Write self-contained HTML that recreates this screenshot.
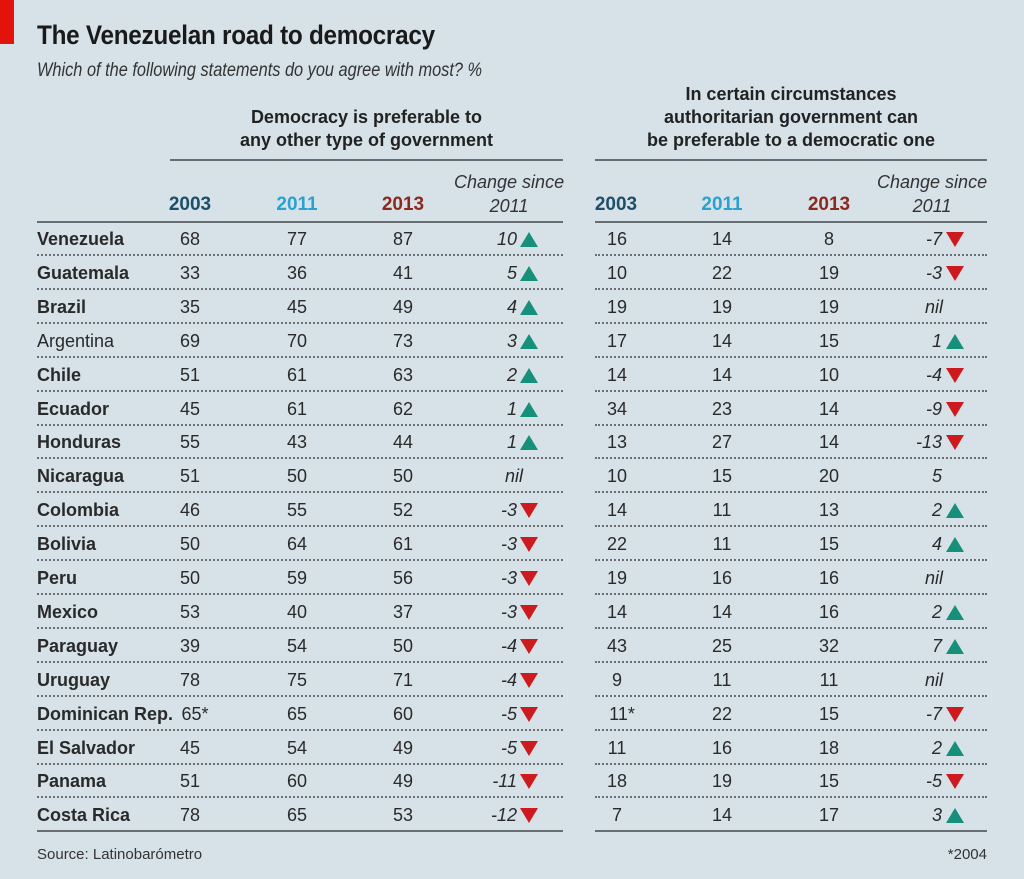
<!DOCTYPE html>
<html><head><meta charset="utf-8">
<style>
html,body{margin:0;padding:0}
body{width:1024px;height:879px;background:#d6e2e8;position:relative;overflow:hidden;font-family:"Liberation Sans",sans-serif;color:#2a2a2a}
.a{position:absolute;white-space:nowrap}
.red{position:absolute;left:0;top:0;width:14px;height:44px;background:#e3120b}
.title{left:37px;top:20px;font-size:27px;font-weight:bold;color:#1a1a1a;letter-spacing:-0.3px;transform:scaleX(0.9);transform-origin:0 0}
.sub{left:37px;top:60px;font-size:19px;font-style:italic;color:#333;transform:scaleX(0.86);transform-origin:0 0}
.hd{font-size:18px;font-weight:bold;text-align:center;line-height:23px;color:#222}
.yr{font-size:19px;font-weight:bold;top:194px;text-align:center;width:60px}
.c03{color:#1b5068}.c11{color:#2ba1cf}.c13{color:#8a2a1e}
.chg{font-size:18px;font-style:italic;text-align:center;line-height:24px;color:#333}
.line{position:absolute;height:2px;background:#666e72}
.row{position:absolute;height:34px;border-bottom:2px dotted #6a6f72;box-sizing:border-box}
.row span{position:absolute;top:6px;font-size:18px;line-height:22px}
.n{left:0;font-weight:bold;color:#2a2a2a}
.v{width:50px;text-align:center;margin-left:-25px}
.ch{text-align:right;width:60px;font-style:italic}
.up,.dn{position:absolute;top:10px;width:0;height:0;border-left:9px solid transparent;border-right:9px solid transparent}
.up{border-bottom:15px solid #16907a}
.dn{border-top:15px solid #cc1a1f}
.foot{top:846px;font-size:15px;color:#333}
</style></head><body>
<div class="red"></div>
<div class="a title">The Venezuelan road to democracy</div>
<div class="a sub">Which of the following statements do you agree with most? %</div>

<div class="a hd" style="left:170px;width:393px;top:106px">Democracy is preferable to<br>any other type of government</div>
<div class="a hd" style="left:595px;width:392px;top:83px">In certain circumstances<br>authoritarian government can<br>be preferable to a democratic one</div>
<div class="line" style="left:170px;width:393px;top:159px"></div>
<div class="line" style="left:595px;width:392px;top:159px"></div>

<div class="a yr c03" style="left:160px">2003</div>
<div class="a yr c11" style="left:267px">2011</div>
<div class="a yr c13" style="left:373px">2013</div>
<div class="a chg" style="left:454px;width:110px;top:170px">Change since<br>2011</div>
<div class="a yr c03" style="left:586px">2003</div>
<div class="a yr c11" style="left:692px">2011</div>
<div class="a yr c13" style="left:799px">2013</div>
<div class="a chg" style="left:877px;width:110px;top:170px">Change since<br>2011</div>

<div class="line" style="left:37px;width:526px;top:221px"></div>
<div class="line" style="left:595px;width:392px;top:221px"></div>

<div class="a" style="left:37px;top:222px;width:526px;height:612px">
<div class="row" style="top:0px;width:526px"><span class="n">Venezuela</span><span class="v" style="left:153px">68</span><span class="v" style="left:260px">77</span><span class="v" style="left:366px">87</span><span class="ch" style="left:420px">10</span><i class="up" style="left:483px"></i></div>
<div class="row" style="top:33.9px;width:526px"><span class="n">Guatemala</span><span class="v" style="left:153px">33</span><span class="v" style="left:260px">36</span><span class="v" style="left:366px">41</span><span class="ch" style="left:420px">5</span><i class="up" style="left:483px"></i></div>
<div class="row" style="top:67.8px;width:526px"><span class="n">Brazil</span><span class="v" style="left:153px">35</span><span class="v" style="left:260px">45</span><span class="v" style="left:366px">49</span><span class="ch" style="left:420px">4</span><i class="up" style="left:483px"></i></div>
<div class="row" style="top:101.7px;width:526px"><span class="n" style="font-weight:normal">Argentina</span><span class="v" style="left:153px">69</span><span class="v" style="left:260px">70</span><span class="v" style="left:366px">73</span><span class="ch" style="left:420px">3</span><i class="up" style="left:483px"></i></div>
<div class="row" style="top:135.6px;width:526px"><span class="n">Chile</span><span class="v" style="left:153px">51</span><span class="v" style="left:260px">61</span><span class="v" style="left:366px">63</span><span class="ch" style="left:420px">2</span><i class="up" style="left:483px"></i></div>
<div class="row" style="top:169.5px;width:526px"><span class="n">Ecuador</span><span class="v" style="left:153px">45</span><span class="v" style="left:260px">61</span><span class="v" style="left:366px">62</span><span class="ch" style="left:420px">1</span><i class="up" style="left:483px"></i></div>
<div class="row" style="top:203.4px;width:526px"><span class="n">Honduras</span><span class="v" style="left:153px">55</span><span class="v" style="left:260px">43</span><span class="v" style="left:366px">44</span><span class="ch" style="left:420px">1</span><i class="up" style="left:483px"></i></div>
<div class="row" style="top:237.3px;width:526px"><span class="n">Nicaragua</span><span class="v" style="left:153px">51</span><span class="v" style="left:260px">50</span><span class="v" style="left:366px">50</span><span class="ch" style="left:426px">nil</span></div>
<div class="row" style="top:271.2px;width:526px"><span class="n">Colombia</span><span class="v" style="left:153px">46</span><span class="v" style="left:260px">55</span><span class="v" style="left:366px">52</span><span class="ch" style="left:420px">-3</span><i class="dn" style="left:483px"></i></div>
<div class="row" style="top:305.1px;width:526px"><span class="n">Bolivia</span><span class="v" style="left:153px">50</span><span class="v" style="left:260px">64</span><span class="v" style="left:366px">61</span><span class="ch" style="left:420px">-3</span><i class="dn" style="left:483px"></i></div>
<div class="row" style="top:339px;width:526px"><span class="n">Peru</span><span class="v" style="left:153px">50</span><span class="v" style="left:260px">59</span><span class="v" style="left:366px">56</span><span class="ch" style="left:420px">-3</span><i class="dn" style="left:483px"></i></div>
<div class="row" style="top:372.9px;width:526px"><span class="n">Mexico</span><span class="v" style="left:153px">53</span><span class="v" style="left:260px">40</span><span class="v" style="left:366px">37</span><span class="ch" style="left:420px">-3</span><i class="dn" style="left:483px"></i></div>
<div class="row" style="top:406.8px;width:526px"><span class="n">Paraguay</span><span class="v" style="left:153px">39</span><span class="v" style="left:260px">54</span><span class="v" style="left:366px">50</span><span class="ch" style="left:420px">-4</span><i class="dn" style="left:483px"></i></div>
<div class="row" style="top:440.7px;width:526px"><span class="n">Uruguay</span><span class="v" style="left:153px">78</span><span class="v" style="left:260px">75</span><span class="v" style="left:366px">71</span><span class="ch" style="left:420px">-4</span><i class="dn" style="left:483px"></i></div>
<div class="row" style="top:474.6px;width:526px"><span class="n">Dominican Rep.</span><span class="v" style="left:158px">65*</span><span class="v" style="left:260px">65</span><span class="v" style="left:366px">60</span><span class="ch" style="left:420px">-5</span><i class="dn" style="left:483px"></i></div>
<div class="row" style="top:508.5px;width:526px"><span class="n">El Salvador</span><span class="v" style="left:153px">45</span><span class="v" style="left:260px">54</span><span class="v" style="left:366px">49</span><span class="ch" style="left:420px">-5</span><i class="dn" style="left:483px"></i></div>
<div class="row" style="top:542.4px;width:526px"><span class="n">Panama</span><span class="v" style="left:153px">51</span><span class="v" style="left:260px">60</span><span class="v" style="left:366px">49</span><span class="ch" style="left:420px">-11</span><i class="dn" style="left:483px"></i></div>
<div class="row" style="top:576.3px;width:526px;border-bottom:none"><span class="n">Costa Rica</span><span class="v" style="left:153px">78</span><span class="v" style="left:260px">65</span><span class="v" style="left:366px">53</span><span class="ch" style="left:420px">-12</span><i class="dn" style="left:483px"></i></div>
</div>

<div class="a" style="left:595px;top:222px;width:392px;height:612px">
<div class="row" style="top:0px;width:392px"><span class="v" style="left:22px">16</span><span class="v" style="left:127px">14</span><span class="v" style="left:234px">8</span><span class="ch" style="left:287px">-7</span><i class="dn" style="left:351px"></i></div>
<div class="row" style="top:33.9px;width:392px"><span class="v" style="left:22px">10</span><span class="v" style="left:127px">22</span><span class="v" style="left:234px">19</span><span class="ch" style="left:287px">-3</span><i class="dn" style="left:351px"></i></div>
<div class="row" style="top:67.8px;width:392px"><span class="v" style="left:22px">19</span><span class="v" style="left:127px">19</span><span class="v" style="left:234px">19</span><span class="ch" style="left:288px">nil</span></div>
<div class="row" style="top:101.7px;width:392px"><span class="v" style="left:22px">17</span><span class="v" style="left:127px">14</span><span class="v" style="left:234px">15</span><span class="ch" style="left:287px">1</span><i class="up" style="left:351px"></i></div>
<div class="row" style="top:135.6px;width:392px"><span class="v" style="left:22px">14</span><span class="v" style="left:127px">14</span><span class="v" style="left:234px">10</span><span class="ch" style="left:287px">-4</span><i class="dn" style="left:351px"></i></div>
<div class="row" style="top:169.5px;width:392px"><span class="v" style="left:22px">34</span><span class="v" style="left:127px">23</span><span class="v" style="left:234px">14</span><span class="ch" style="left:287px">-9</span><i class="dn" style="left:351px"></i></div>
<div class="row" style="top:203.4px;width:392px"><span class="v" style="left:22px">13</span><span class="v" style="left:127px">27</span><span class="v" style="left:234px">14</span><span class="ch" style="left:287px">-13</span><i class="dn" style="left:351px"></i></div>
<div class="row" style="top:237.3px;width:392px"><span class="v" style="left:22px">10</span><span class="v" style="left:127px">15</span><span class="v" style="left:234px">20</span><span class="ch" style="left:287px">5</span></div>
<div class="row" style="top:271.2px;width:392px"><span class="v" style="left:22px">14</span><span class="v" style="left:127px">11</span><span class="v" style="left:234px">13</span><span class="ch" style="left:287px">2</span><i class="up" style="left:351px"></i></div>
<div class="row" style="top:305.1px;width:392px"><span class="v" style="left:22px">22</span><span class="v" style="left:127px">11</span><span class="v" style="left:234px">15</span><span class="ch" style="left:287px">4</span><i class="up" style="left:351px"></i></div>
<div class="row" style="top:339px;width:392px"><span class="v" style="left:22px">19</span><span class="v" style="left:127px">16</span><span class="v" style="left:234px">16</span><span class="ch" style="left:288px">nil</span></div>
<div class="row" style="top:372.9px;width:392px"><span class="v" style="left:22px">14</span><span class="v" style="left:127px">14</span><span class="v" style="left:234px">16</span><span class="ch" style="left:287px">2</span><i class="up" style="left:351px"></i></div>
<div class="row" style="top:406.8px;width:392px"><span class="v" style="left:22px">43</span><span class="v" style="left:127px">25</span><span class="v" style="left:234px">32</span><span class="ch" style="left:287px">7</span><i class="up" style="left:351px"></i></div>
<div class="row" style="top:440.7px;width:392px"><span class="v" style="left:22px">9</span><span class="v" style="left:127px">11</span><span class="v" style="left:234px">11</span><span class="ch" style="left:288px">nil</span></div>
<div class="row" style="top:474.6px;width:392px"><span class="v" style="left:27px">11*</span><span class="v" style="left:127px">22</span><span class="v" style="left:234px">15</span><span class="ch" style="left:287px">-7</span><i class="dn" style="left:351px"></i></div>
<div class="row" style="top:508.5px;width:392px"><span class="v" style="left:22px">11</span><span class="v" style="left:127px">16</span><span class="v" style="left:234px">18</span><span class="ch" style="left:287px">2</span><i class="up" style="left:351px"></i></div>
<div class="row" style="top:542.4px;width:392px"><span class="v" style="left:22px">18</span><span class="v" style="left:127px">19</span><span class="v" style="left:234px">15</span><span class="ch" style="left:287px">-5</span><i class="dn" style="left:351px"></i></div>
<div class="row" style="top:576.3px;width:392px;border-bottom:none"><span class="v" style="left:22px">7</span><span class="v" style="left:127px">14</span><span class="v" style="left:234px">17</span><span class="ch" style="left:287px">3</span><i class="up" style="left:351px"></i></div>
</div>

<div class="line" style="left:37px;width:526px;top:830px"></div>
<div class="line" style="left:595px;width:392px;top:830px"></div>
<div class="a foot" style="left:37px">Source: Latinobarómetro</div>
<div class="a foot" style="left:900px;width:87px;text-align:right">*2004</div>
</body></html>
